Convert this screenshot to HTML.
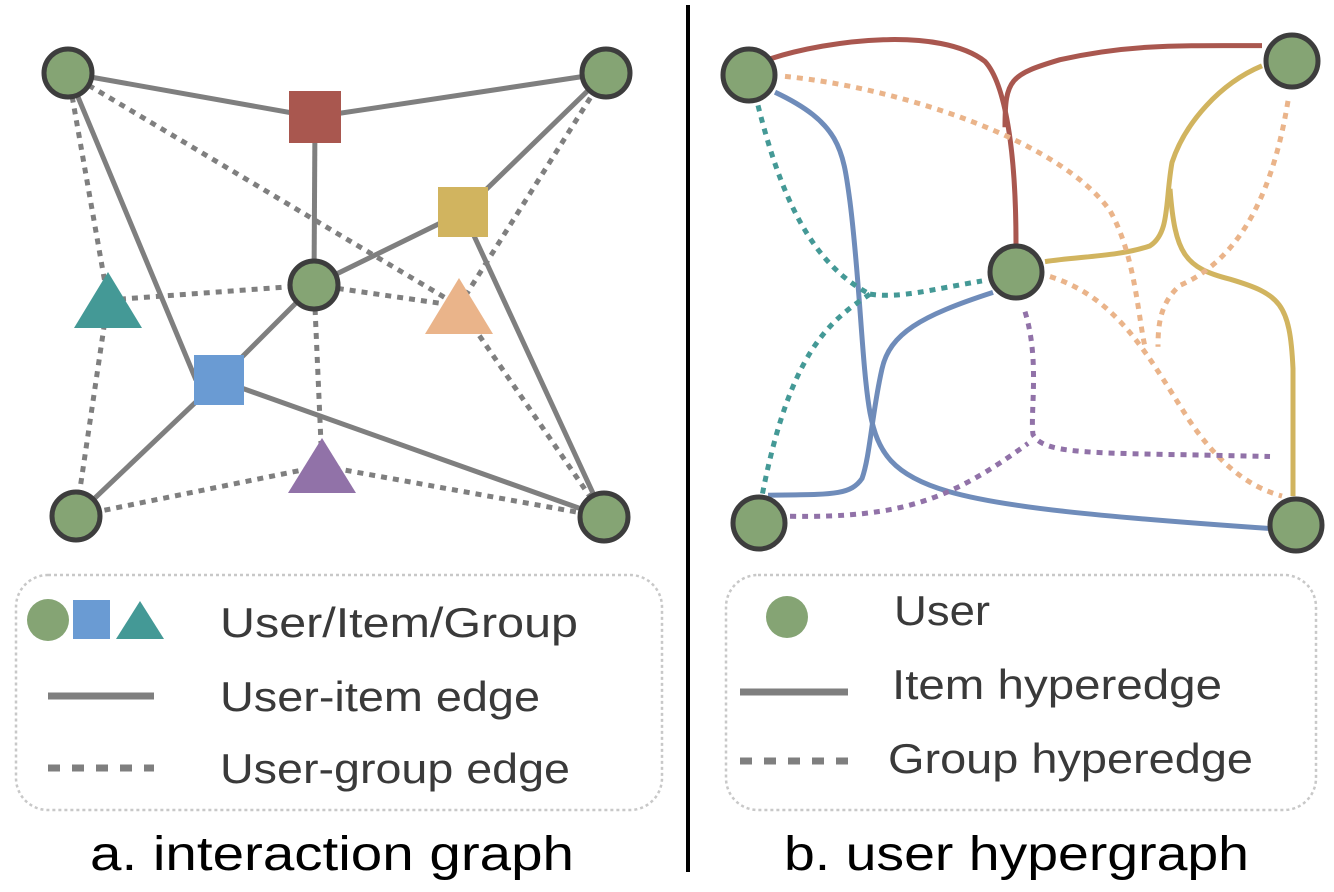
<!DOCTYPE html>
<html><head><meta charset="utf-8"><style>
html,body{margin:0;padding:0;background:#fff;width:1334px;height:892px;overflow:hidden}
svg{display:block}
text{font-family:"Liberation Sans",sans-serif}
</style></head><body>
<svg width="1334" height="892" viewBox="0 0 1334 892" xmlns="http://www.w3.org/2000/svg">
<line x1="688" y1="5" x2="688" y2="872" stroke="#000" stroke-width="4"/>

<g stroke="#7f7f7f" stroke-width="5" fill="none">
<line x1="68" y1="73" x2="315" y2="117"/>
<line x1="315" y1="117" x2="606" y2="73"/>
<line x1="315" y1="117" x2="314" y2="285"/>
<line x1="314" y1="285" x2="463" y2="212"/>
<line x1="463" y1="212" x2="606" y2="73"/>
<line x1="463" y1="212" x2="604" y2="517"/>
<line x1="68" y1="73" x2="196" y2="380"/>
<line x1="196" y1="380" x2="219" y2="380"/>
<line x1="219" y1="380" x2="314" y2="285"/>
<line x1="219" y1="380" x2="76" y2="516"/>
<line x1="219" y1="380" x2="604" y2="517"/>
</g>
<g stroke="#7f7f7f" stroke-width="5" fill="none" stroke-dasharray="6 6">
<line x1="68" y1="73" x2="108" y2="300"/>
<line x1="108" y1="300" x2="76" y2="516"/>
<line x1="108" y1="300" x2="314" y2="285"/>
<line x1="68" y1="73" x2="459" y2="306"/>
<line x1="314" y1="285" x2="459" y2="306"/>
<line x1="459" y1="306" x2="606" y2="73"/>
<line x1="459" y1="306" x2="604" y2="517"/>
<line x1="314" y1="285" x2="322" y2="466"/>
<line x1="322" y1="466" x2="76" y2="516"/>
<line x1="322" y1="466" x2="604" y2="517"/>
</g>
<rect x="289" y="91" width="52" height="52" fill="#a9574f"/>
<rect x="438" y="187" width="50" height="50" fill="#d1b45f"/>
<rect x="194" y="355" width="50" height="50" fill="#6a9bd3"/>
<polygon points="108,272 142,328 74,328" fill="#449996"/>
<polygon points="459,278 493,334 425,334" fill="#eab48a"/>
<polygon points="322,438 356,493 288,493" fill="#9172a8"/>
<g fill="#85a474" stroke="#3d3d3d" stroke-width="5">
<circle cx="68" cy="73" r="24"/>
<circle cx="606" cy="73" r="24"/>
<circle cx="314" cy="285" r="24"/>
<circle cx="76" cy="516" r="24"/>
<circle cx="604" cy="517" r="24"/>
</g>

<!-- RIGHT PANEL (y scaled) -->
<g transform="scale(1,0.878)">
<g fill="none" stroke-width="5" vector-effect="non-scaling-stroke">
<path vector-effect="non-scaling-stroke" d="M770,67 C830,45 940,30 985,70 C1005,95 1016,170 1016,278" stroke="#a9574f"/>
<path vector-effect="non-scaling-stroke" d="M1005,145 C1005,90 1010,85 1060,68 C1130,50 1180,52 1262,52" stroke="#a9574f"/>
<path vector-effect="non-scaling-stroke" d="M775,105 C840,140 843,170 850,230 C860,320 862,420 870,470 C885,560 930,575 1270,602" stroke="#6f8cba"/>
<path vector-effect="non-scaling-stroke" d="M993,333 C920,360 890,380 882,420 C872,470 870,520 862,545 C850,565 830,563 768,564" stroke="#6f8cba"/>
<path vector-effect="non-scaling-stroke" d="M1262,75 C1220,95 1185,140 1172,185 C1165,230 1170,265 1150,280 C1120,292 1080,292 1045,298" stroke="#d1b45f"/>
<path vector-effect="non-scaling-stroke" d="M1170,215 C1175,290 1185,305 1230,318 C1280,335 1290,345 1293,420 L1293,565" stroke="#d1b45f"/>
</g>
<g fill="none" stroke-width="5" stroke-dasharray="6 6">
<path vector-effect="non-scaling-stroke" d="M758,120 C780,220 810,300 870,335" stroke="#449996"/>
<path vector-effect="non-scaling-stroke" d="M870,335 C900,340 930,330 982,320" stroke="#449996"/>
<path vector-effect="non-scaling-stroke" d="M870,335 C830,365 790,400 762,565" stroke="#449996"/>
<path vector-effect="non-scaling-stroke" d="M785,87 C900,100 1060,160 1110,240 C1135,290 1138,360 1145,395" stroke="#eab48a"/>
<path vector-effect="non-scaling-stroke" d="M1288,115 C1270,240 1230,300 1180,325 C1160,345 1158,370 1158,395" stroke="#eab48a"/>
<path vector-effect="non-scaling-stroke" d="M1050,315 C1120,340 1150,410 1190,480 C1220,530 1250,555 1282,565" stroke="#eab48a"/>
<path vector-effect="non-scaling-stroke" d="M1025,355 C1040,410 1030,470 1033,495 C1045,520 1100,515 1270,520" stroke="#9172a8"/>
<path vector-effect="non-scaling-stroke" d="M790,588 C900,590 950,570 1028,505" stroke="#9172a8"/>
</g>
</g>
<g fill="#85a474" stroke="#3d3d3d" stroke-width="5">
<circle cx="749" cy="75" r="26"/>
<circle cx="1292" cy="61" r="26"/>
<circle cx="1016" cy="272" r="26"/>
<circle cx="759" cy="523" r="26"/>
<circle cx="1296" cy="525" r="26"/>
</g>

<!-- LEGENDS -->
<rect x="16" y="575" width="646" height="235" rx="32" fill="none" stroke="#c8c8c8" stroke-width="2.5" stroke-dasharray="3 3"/>
<circle cx="48" cy="620" r="21" fill="#85a474"/>
<rect x="73" y="600" width="37" height="39" fill="#6a9bd3"/>
<polygon points="140,601 164,639 116,639" fill="#449996"/>
<text x="220" y="637" font-size="42" fill="#3a3a3a" textLength="358" lengthAdjust="spacingAndGlyphs">User/Item/Group</text>
<line x1="48" y1="696" x2="154" y2="696" stroke="#7f7f7f" stroke-width="7"/>
<text x="220" y="711" font-size="42" fill="#3a3a3a" textLength="320" lengthAdjust="spacingAndGlyphs">User-item edge</text>
<line x1="48" y1="768" x2="154" y2="768" stroke="#7f7f7f" stroke-width="7" stroke-dasharray="12 12"/>
<text x="220" y="783" font-size="42" fill="#3a3a3a" textLength="350" lengthAdjust="spacingAndGlyphs">User-group edge</text>

<rect x="726" y="575" width="590" height="235" rx="32" fill="none" stroke="#c8c8c8" stroke-width="2.5" stroke-dasharray="3 3"/>
<circle cx="787" cy="617" r="21" fill="#85a474"/>
<text x="894" y="625" font-size="42" fill="#3a3a3a" textLength="96" lengthAdjust="spacingAndGlyphs">User</text>
<line x1="740" y1="692" x2="848" y2="692" stroke="#7f7f7f" stroke-width="7"/>
<text x="892" y="699" font-size="42" fill="#3a3a3a" textLength="330" lengthAdjust="spacingAndGlyphs">Item hyperedge</text>
<line x1="740" y1="761" x2="848" y2="761" stroke="#7f7f7f" stroke-width="7" stroke-dasharray="12 12"/>
<text x="888" y="773" font-size="42" fill="#3a3a3a" textLength="365" lengthAdjust="spacingAndGlyphs">Group hyperedge</text>

<text x="90" y="870" font-size="48" fill="#000" textLength="484" lengthAdjust="spacingAndGlyphs">a. interaction graph</text>
<text x="784" y="870" font-size="48" fill="#000" textLength="465" lengthAdjust="spacingAndGlyphs">b. user hypergraph</text>
</svg>
</body></html>
